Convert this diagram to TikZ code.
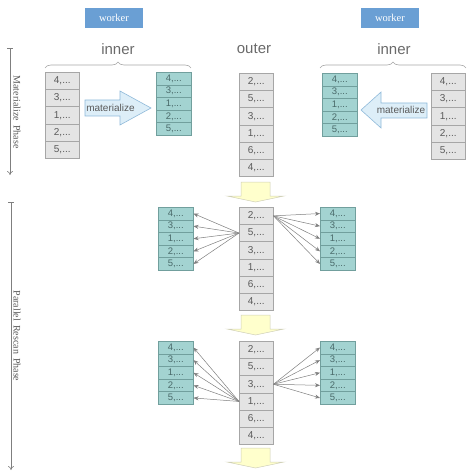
\documentclass[tikz,border=0pt]{standalone}
\usepackage{fontspec}
\setmainfont{Liberation Serif}
\setsansfont{Liberation Sans}
\usetikzlibrary{arrows.meta,decorations.pathreplacing,calc}
\definecolor{gfill}{HTML}{E4E4E4}
\definecolor{gdraw}{HTML}{A6A6A6}
\definecolor{tfill}{HTML}{A3D3D1}
\definecolor{tdraw}{HTML}{719F9D}
\definecolor{txt}{HTML}{5A5A5A}
\definecolor{ttxt}{HTML}{4A6A6A}
\definecolor{wfill}{HTML}{6A9FD4}
\definecolor{mfill}{HTML}{DDEEF8}
\definecolor{mdraw}{HTML}{8FB9D9}
\definecolor{yfill}{HTML}{FFFFCC}
\definecolor{ydraw}{HTML}{CFCFB8}
\definecolor{conn}{HTML}{7F7F7F}
\definecolor{lbl}{HTML}{6A6A6A}
\begin{document}
\begin{tikzpicture}[x=1pt,y=-1pt,
  gcell/.style={draw=gdraw,fill=gfill,minimum width=34pt,minimum height=17.2pt,inner sep=0pt,
    font=\sffamily\fontsize{10}{10}\selectfont,text=txt,line width=0.5pt,anchor=north west},
  tcell/.style={draw=tdraw,fill=tfill,minimum width=35pt,minimum height=12.6pt,inner sep=0pt,
    font=\sffamily\fontsize{9.5}{9.5}\selectfont,text=ttxt,line width=0.5pt,anchor=north west},
  workerbox/.style={fill=wfill,minimum width=58pt,minimum height=20pt,inner sep=0pt,
    text=white,font=\rmfamily\fontsize{10.5}{10.5}\selectfont},
  headlbl/.style={font=\sffamily\fontsize{15}{15}\selectfont,text=lbl,inner sep=0pt},
  phaselbl/.style={rotate=-90,font=\rmfamily\fontsize{10}{10}\selectfont,text=txt,inner sep=0pt},
  phasearrow/.style={draw=conn,line width=0.6pt,{Bar[width=6pt]}-{To[length=4pt,width=6pt]}},
  matarrow/.style={draw=mdraw,fill=mfill,line width=0.6pt},
  matlbl/.style={font=\sffamily\fontsize{10}{10}\selectfont,text=txt,inner sep=0pt},
  yarrow/.style={draw=ydraw,fill=yfill,line width=0.5pt},
  connarrow/.style={draw=conn,line width=0.5pt,-{Stealth[length=5pt,width=4pt]}},
  bracestyle/.style={draw=gdraw,line width=0.6pt,decorate,decoration={brace,amplitude=6pt}}
]
\useasboundingbox (0,0) rectangle (474,476);

% workers and headers
\node[workerbox] (w1) at (114,18) {worker};
\node[workerbox] (w2) at (390,18) {worker};
\node[headlbl] (inL) at (118,49) {inner};
\node[headlbl] (out) at (254,49) {outer};
\node[headlbl] (inR) at (394,49) {inner};
\draw[bracestyle] (45,68) -- (191,68);
\draw[bracestyle] (320,68) -- (466,68);

% phase arrows
\coordinate (p1a) at (10,48);
\coordinate (p1b) at (10,175);
\coordinate (p2a) at (11,202);
\coordinate (p2b) at (11,470);
\draw[phasearrow] (p1a) -- (p1b);
\draw[phasearrow] (p2a) -- (p2b);
\node[phaselbl] (ph1) at (17,112) {Materialize\hspace{4pt}Phase};
\node[phaselbl] (ph2) at (17,336) {Parallel\hspace{4pt}Rescan\hspace{4pt}Phase};

% stage 0
\foreach \v [count=\i] in {4,3,1,2,5} \node[gcell] (A-\i) at (45,{72+(\i-1)*17.2}) {\v,...};
\foreach \v [count=\i] in {4,3,1,2,5} \node[tcell] (TL0-\i) at (156,{72+(\i-1)*12.6}) {\v,...};
\foreach \v [count=\i] in {2,5,3,1,6,4} \node[gcell] (O0-\i) at (239,{73+(\i-1)*17.2}) {\v,...};
\foreach \v [count=\i] in {4,3,1,2,5} \node[tcell] (TR0-\i) at (322,{73+(\i-1)*12.6}) {\v,...};
\foreach \v [count=\i] in {4,3,1,2,5} \node[gcell] (B-\i) at (431,{73+(\i-1)*17.2}) {\v,...};

\draw[matarrow] (85,100) -- (120,100) -- (120,91) -- (151,108) -- (120,125) -- (120,116) -- (85,116) -- cycle;
\node[matlbl] (m1) at (110.5,108) {materialize};
\draw[matarrow] (427,103) -- (381,103) -- (381,92) -- (361,110) -- (381,128) -- (381,118) -- (427,118) -- cycle;
\node[matlbl] (m2) at (401,110) {materialize};

% yellow arrows
\foreach \t in {182,315,448}
  \draw[yarrow] (241,\t) -- (270,\t) -- (270,\t+14) -- (284,\t+14) -- (255.5,\t+20) -- (227,\t+14) -- (241,\t+14) -- cycle;

% stage 1
\foreach \v [count=\i] in {2,5,3,1,6,4} \node[gcell] (O1-\i) at (239,{207+(\i-1)*17.2}) {\v,...};
\foreach \v [count=\i] in {4,3,1,2,5} \node[tcell] (TL1-\i) at (158,{207+(\i-1)*12.6}) {\v,...};
\foreach \v [count=\i] in {4,3,1,2,5} \node[tcell] (TR1-\i) at (320,{207+(\i-1)*12.6}) {\v,...};
\foreach \i in {1,...,5} {
  \draw[connarrow] (O1-1.east) -- (TR1-\i.west);
  \draw[connarrow] (O1-2.west) -- (TL1-\i.east);
}

% stage 2
\foreach \v [count=\i] in {2,5,3,1,6,4} \node[gcell] (O2-\i) at (239,{341+(\i-1)*17.2}) {\v,...};
\foreach \v [count=\i] in {4,3,1,2,5} \node[tcell] (TL2-\i) at (158,{341+(\i-1)*12.6}) {\v,...};
\foreach \v [count=\i] in {4,3,1,2,5} \node[tcell] (TR2-\i) at (320,{341+(\i-1)*12.6}) {\v,...};
\foreach \i in {1,...,5} {
  \draw[connarrow] (O2-3.east) -- (TR2-\i.west);
  \draw[connarrow] (O2-4.west) -- (TL2-\i.east);
}
\end{tikzpicture}
\end{document}
